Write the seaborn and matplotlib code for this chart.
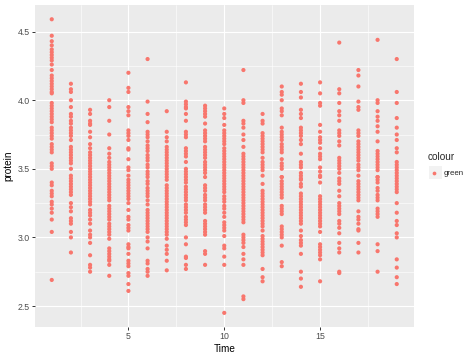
import pandas as pd
import matplotlib
matplotlib.use('Agg')
import matplotlib.pyplot as plt
from matplotlib.patches import Rectangle
import seaborn as sns

# protein values, one list per Time
t1 = [4.59, 4.47, 4.43, 4.40, 4.37, 4.35, 4.33, 4.31, 4.29, 4.26, 4.22, 4.18, 4.16, 4.14, 4.12, 4.10, 4.08, 4.06, 4.05,
      3.98, 3.96, 3.94, 3.92, 3.90, 3.88, 3.86, 3.84, 3.80, 3.78, 3.76, 3.74, 3.72, 3.68, 3.66, 3.64, 3.62, 3.54, 3.52, 3.50,
      3.40, 3.38, 3.34, 3.32, 3.30, 3.26, 3.24, 3.21, 3.18, 3.13, 3.04, 2.69]
t2 = [4.12, 4.08, 4.06, 4.00, 3.95, 3.90, 3.88, 3.85, 3.83, 3.80, 3.78, 3.76, 3.74, 3.71, 3.66, 3.64, 3.62, 3.60, 3.58, 3.56, 3.54,
      3.50, 3.45, 3.43, 3.41, 3.39, 3.37, 3.35, 3.33, 3.31, 3.25, 3.22, 3.19, 3.14, 3.12, 3.10, 3.04, 3.00, 2.89]
t3 = [3.93, 3.90, 3.85, 3.83, 3.82, 3.77, 3.73, 3.68, 3.65, 3.62, 3.60, 3.58, 3.56, 3.54, 3.52, 3.50, 3.48, 3.46, 3.44, 3.42,
      3.40, 3.38, 3.36, 3.34, 3.32, 3.30, 3.28, 3.26, 3.24, 3.20, 3.18, 3.16, 3.13, 3.10, 3.05, 3.02, 3.00, 2.96, 2.87, 2.80, 2.78, 2.75]
t4 = [4.00, 3.95, 3.85, 3.75, 3.65, 3.61, 3.58, 3.55, 3.53, 3.51, 3.49, 3.47, 3.45, 3.43, 3.41, 3.39, 3.37, 3.35, 3.33, 3.31,
      3.29, 3.27, 3.23, 3.21, 3.19, 3.17, 3.15, 3.13, 3.10, 3.08, 3.06, 3.04, 3.02, 2.99, 2.92, 2.90, 2.88, 2.86, 2.84, 2.83, 2.80, 2.72]
t5 = [4.20, 4.09, 4.06, 3.95, 3.92, 3.89, 3.78, 3.76, 3.74, 3.71, 3.65, 3.64, 3.57, 3.51, 3.49, 3.45, 3.42, 3.40, 3.38, 3.36,
      3.34, 3.32, 3.30, 3.28, 3.25, 3.20, 3.15, 3.13, 3.09, 3.07, 3.05, 2.95, 2.93, 2.92, 2.88, 2.83, 2.81, 2.79, 2.74, 2.72, 2.66, 2.61]
t6 = [4.30, 3.99, 3.90, 3.84, 3.77, 3.75, 3.73, 3.70, 3.67, 3.65, 3.63, 3.60, 3.58, 3.56, 3.53, 3.51, 3.48, 3.46, 3.44, 3.41, 3.39,
      3.36, 3.34, 3.32, 3.30, 3.27, 3.24, 3.20, 3.18, 3.16, 3.14, 3.12, 3.10, 3.08, 3.06, 3.04, 3.00, 2.97, 2.92, 2.83, 2.81, 2.77, 2.75, 2.72]
t7 = [3.92, 3.77, 3.73, 3.70, 3.66, 3.64, 3.62, 3.60, 3.58, 3.56, 3.54, 3.52, 3.50, 3.48, 3.46, 3.44, 3.42, 3.38, 3.36, 3.34,
      3.32, 3.30, 3.28, 3.26, 3.24, 3.22, 3.20, 3.18, 3.16, 3.14, 3.12, 3.10, 3.08, 3.06, 3.04, 3.02, 2.99, 2.94, 2.91, 2.88, 2.83, 2.76]
t8 = [4.13, 3.99, 3.97, 3.95, 3.94, 3.90, 3.85, 3.77, 3.75, 3.73, 3.65, 3.63, 3.61, 3.59, 3.55, 3.50, 3.48, 3.46, 3.44, 3.42, 3.40,
      3.37, 3.35, 3.33, 3.31, 3.29, 3.27, 3.24, 3.22, 3.20, 3.18, 3.15, 3.13, 3.11, 3.09, 3.00, 2.95, 2.86, 2.85, 2.80, 2.77]
t9 = [3.96, 3.94, 3.92, 3.90, 3.88, 3.83, 3.78, 3.76, 3.74, 3.72, 3.70, 3.66, 3.64, 3.62, 3.60, 3.58, 3.55, 3.53, 3.51, 3.49, 3.47,
      3.44, 3.38, 3.36, 3.34, 3.31, 3.29, 3.27, 3.24, 3.22, 3.20, 3.18, 3.12, 3.10, 3.08, 3.06, 3.04, 3.02, 2.90, 2.88, 2.80]
t10 = [3.94, 3.90, 3.87, 3.82, 3.78, 3.76, 3.74, 3.72, 3.70, 3.68, 3.65, 3.63, 3.61, 3.59, 3.57, 3.55, 3.53, 3.51, 3.49, 3.47, 3.45,
       3.43, 3.41, 3.39, 3.37, 3.35, 3.33, 3.30, 3.28, 3.26, 3.23, 3.21, 3.18, 3.15, 3.11, 3.09, 3.07, 3.05, 3.01, 2.94, 2.92, 2.86, 2.80, 2.45]
t11 = [4.22, 4.00, 3.98, 3.85, 3.83, 3.80, 3.75, 3.71, 3.66, 3.61, 3.59, 3.57, 3.55, 3.53, 3.51, 3.49, 3.47, 3.45, 3.43, 3.41, 3.39,
       3.37, 3.35, 3.33, 3.31, 3.29, 3.27, 3.25, 3.23, 3.21, 3.19, 3.17, 3.15, 3.13, 3.11, 3.02, 3.00, 2.98, 2.96, 2.93, 2.88, 2.84, 2.80, 2.57, 2.55]
t12 = [3.90, 3.85, 3.83, 3.76, 3.74, 3.72, 3.70, 3.68, 3.66, 3.64, 3.62, 3.58, 3.55, 3.53, 3.51, 3.49, 3.45, 3.39, 3.34, 3.32, 3.30,
       3.28, 3.26, 3.24, 3.22, 3.20, 3.18, 3.16, 3.14, 3.12, 3.10, 3.08, 3.05, 3.01, 2.99, 2.97, 2.95, 2.93, 2.91, 2.89, 2.87, 2.77, 2.71, 2.68]
t13 = [4.10, 4.06, 4.04, 4.00, 3.94, 3.92, 3.89, 3.80, 3.77, 3.75, 3.73, 3.71, 3.68, 3.66, 3.64, 3.62, 3.57, 3.54, 3.52, 3.50, 3.44,
       3.44, 3.41, 3.39, 3.37, 3.35, 3.33, 3.31, 3.29, 3.23, 3.21, 3.19, 3.17, 3.08, 3.06, 3.04, 3.02, 3.00, 2.94, 2.82, 2.79]
t14 = [4.12, 4.06, 4.02, 3.93, 3.90, 3.87, 3.80, 3.78, 3.76, 3.74, 3.71, 3.68, 3.61, 3.55, 3.53, 3.51, 3.47, 3.45, 3.43, 3.42, 3.39,
       3.37, 3.32, 3.30, 3.28, 3.26, 3.24, 3.22, 3.20, 3.18, 3.16, 3.14, 3.12, 3.10, 3.05, 3.01, 2.98, 2.96, 2.94, 2.88, 2.75, 2.70, 2.64]
t15 = [4.13, 4.05, 3.98, 3.96, 3.82, 3.77, 3.73, 3.71, 3.69, 3.65, 3.61, 3.59, 3.57, 3.51, 3.48, 3.45, 3.44, 3.40, 3.30, 3.28,
       3.26, 3.24, 3.22, 3.20, 3.18, 3.16, 3.14, 3.12, 3.10, 3.08, 3.04, 2.95, 2.93, 2.91, 2.89, 2.87, 2.84, 2.68]
t16 = [4.42, 4.08, 4.05, 3.98, 3.92, 3.89, 3.85, 3.78, 3.76, 3.74, 3.70, 3.67, 3.58, 3.56, 3.54, 3.52, 3.50, 3.47, 3.43, 3.41, 3.39,
       3.34, 3.30, 3.25, 3.23, 3.21, 3.19, 3.17, 3.12, 3.10, 3.07, 3.03, 2.96, 2.92, 2.89, 2.75, 2.74]
t17 = [4.22, 4.18, 4.10, 3.99, 3.95, 3.93, 3.78, 3.76, 3.74, 3.70, 3.68, 3.66, 3.64, 3.62, 3.60, 3.58, 3.56, 3.53, 3.51, 3.49, 3.45,
       3.41, 3.39, 3.37, 3.35, 3.33, 3.31, 3.29, 3.27, 3.19, 3.15, 3.13, 3.10, 3.06, 3.05, 2.96, 2.89]
t18 = [4.44, 4.00, 3.98, 3.92, 3.88, 3.85, 3.81, 3.77, 3.70, 3.63, 3.61, 3.59, 3.57, 3.55, 3.53, 3.51, 3.49, 3.44, 3.44, 3.42, 3.40,
       3.36, 3.34, 3.31, 3.29, 3.27, 3.21, 3.19, 3.17, 3.15, 2.95, 2.90, 2.75]
t19 = [4.30, 4.06, 3.98, 3.87, 3.80, 3.75, 3.71, 3.65, 3.62, 3.55, 3.53, 3.51, 3.49, 3.47, 3.45, 3.43, 3.41, 3.39, 3.37, 3.35,
       3.33, 3.25, 3.18, 3.12, 3.09, 3.03, 3.00, 2.84, 2.78, 2.71, 2.66]

columns = [t1, t2, t3, t4, t5, t6, t7, t8, t9, t10, t11, t12, t13, t14, t15, t16, t17, t18, t19]
times = list(range(1, 20))

rows = [(t, p) for t, col in zip(times, columns) for p in col]
milk = pd.DataFrame(rows, columns=['Time', 'protein'])
milk['colour'] = 'green'

sns.set_theme(style='darkgrid')
plt.rcParams['font.family'] = ['Liberation Sans', 'DejaVu Sans']

W, H = 474, 355
fig = plt.figure(figsize=(W / 100, H / 100), dpi=100)
ax = fig.add_axes([34.5 / W, 1 - 327 / H, (414 - 34.5) / W, (327 - 5) / H])
ax.set_facecolor('#EBEBEB')

sns.scatterplot(data=milk, x='Time', y='protein', hue='colour', palette=['#F8766D'],
                s=9, linewidth=0, alpha=1, ax=ax, zorder=3)

ax.set_xlim(0.1, 19.9)
ax.set_ylim(2.347, 4.694)
ax.set_xticks([5, 10, 15])
ax.set_xticks([2.5, 7.5, 12.5, 17.5], minor=True)
ax.set_yticks([2.5, 3.0, 3.5, 4.0, 4.5])
ax.set_yticklabels(['2.5', '3.0', '3.5', '4.0', '4.5'])
ax.set_yticks([2.75, 3.25, 3.75, 4.25], minor=True)
ax.grid(which='major', color='white', linewidth=0.8)
ax.grid(which='minor', color='white', linewidth=0.4)
ax.set_axisbelow(True)
for s in ax.spines.values():
    s.set_visible(False)
ax.tick_params(which='major', length=2, width=0.7, color='#333333', labelcolor='#4D4D4D', labelsize=6.3, pad=1.5,
               bottom=True, left=True)
ax.tick_params(which='minor', length=0)
ax.set_xlabel('Time', fontsize=7.2, color='black', labelpad=2)
ax.set_ylabel('protein', fontsize=7.2, color='black', labelpad=3)

# legend key background goes under the legend
fig.patches.append(Rectangle((428.5 / W, 1 - 179 / H), 13.5 / W, 13.5 / H, transform=fig.transFigure,
                             facecolor='#F2F2F2', edgecolor='none', zorder=-1))
leg = ax.legend(title='colour', loc='upper left', bbox_to_anchor=(428 / W, 1 - 151.5 / H),
                bbox_transform=fig.transFigure, frameon=False, fontsize=5.7, title_fontsize=7.2,
                handletextpad=0.45, handlelength=1.5, borderpad=0, borderaxespad=0, labelspacing=0, markerscale=0.9)
leg._legend_box.align = 'left'
leg._legend_box.sep = 6

fig.savefig('out.png', dpi=100)
